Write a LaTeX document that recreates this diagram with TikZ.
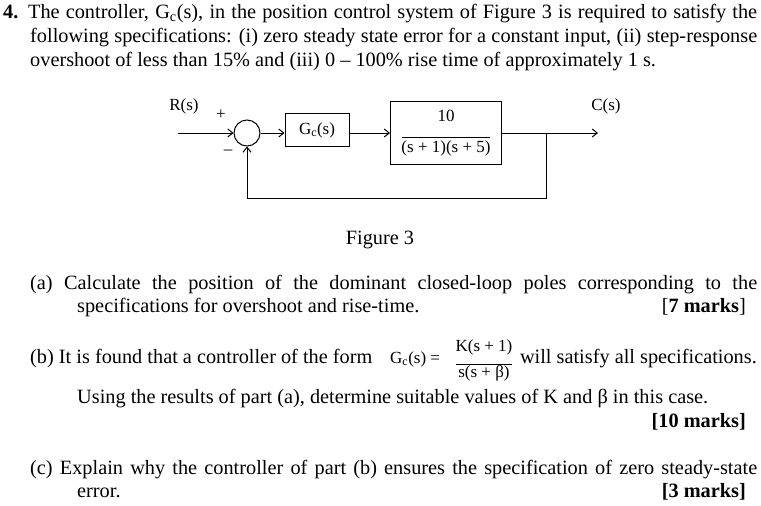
\documentclass[tikz,border=0pt]{standalone}
\usepackage{fontspec}
\setmainfont{Liberation Serif}
\usetikzlibrary{arrows.meta}
\begin{document}
\begin{tikzpicture}[x=1pt,y=-1pt,
 txt/.style={anchor=base west,inner sep=0,font=\fontsize{20.3}{22}\selectfont},
 sm/.style={inner sep=0,font=\fontsize{17}{18}\selectfont},
 blk/.style={draw,line width=1pt,minimum width=64pt,minimum height=33pt,inner sep=0,font=\fontsize{17}{18}\selectfont},
 arr/.style={line width=1pt,-{Straight Barb[length=5pt,width=8pt]}},
 ln/.style={line width=1pt}]
\useasboundingbox (0,0) rectangle (761,506);
\node[txt] (l1) at (3,18) {\makebox[754pt][s]{\textbf{4.} The controller, G$_\mathrm{c}$(s), in the position control system of Figure 3 is required to satisfy the}};
\node[txt] (l2) at (30,42) {\makebox[727pt][s]{following specifications: (i) zero steady state error for a constant input, (ii) step-response}};
\node[txt] (l3) at (30,66) {overshoot of less than 15\% and (iii) 0 – 100\% rise time of approximately 1 s.};
% diagram
\node[sm] (R) at (184,106) {R(s)};
\node[sm] (C) at (606,106) {C(s)};
\node[sm] (p) at (221,115) {+};
\node[sm] (m) at (228,152) {\textendash};
\node[draw,circle,line width=1pt,minimum size=26pt,inner sep=0] (sum) at (247,133) {};
\node[blk] (gc) at (317,130) {G$_\mathrm{c}$(s)};
\node[blk,minimum width=111pt,minimum height=63pt] (gp) at (446,133) {\begin{tabular}{@{}c@{}}10\\[-2pt]\rule{88pt}{0.6pt}\\[-3pt](s + 1)(s + 5)\end{tabular}};
\coordinate (in) at (178,133);
\coordinate (br) at (546,133);
\coordinate (out) at (598,133);
\coordinate (fb) at (546,198);
\coordinate (fb2) at (247,198);
\draw[arr] (in) -- (sum);
\draw[arr] (sum) -- (gc.west|-sum);
\draw[arr] (gc.east|-sum) -- (gp.west|-sum);
\draw[arr] (gp.east|-sum) -- (out);
\draw[ln] (br) -- (fb) -- (fb2);
\draw[arr] (fb2) -- (sum.south);
\node[txt,anchor=base] (fig) at (380,244) {Figure 3};
% (a)
\node[txt] (a1) at (30,289) {\makebox[727pt][s]{(a) Calculate the position of the dominant closed-loop poles corresponding to the}};
\node[txt] (a2) at (77,312) {specifications for overshoot and rise-time.};
\node[txt,anchor=base east] (a3) at (746,312) {[\textbf{7 marks}]};
% (b)
\node[txt] (b1) at (30,363) {(b) It is found that a controller of the form};
\node[sm,anchor=base west] (bf) at (390,363) {G$_\mathrm{c}$(s) =};
\node[sm] (bfr) at (484,361) {\begin{tabular}{@{}c@{}}K(s + 1)\\[-5pt]\rule{56pt}{0.6pt}\\[-5pt]s(s + β)\end{tabular}};
\node[txt,anchor=base east] (b2) at (757,363) {will satisfy all specifications.};
\node[txt] (b3) at (77,403) {Using the results of part (a), determine suitable values of K and β in this case.};
\node[txt,anchor=base east] (b4) at (746,427) {\textbf{[10 marks]}};
% (c)
\node[txt] (c1) at (30,474) {\makebox[727pt][s]{(c) Explain why the controller of part (b) ensures the specification of zero steady-state}};
\node[txt] (c2) at (77,497) {error.};
\node[txt,anchor=base east] (c3) at (746,497) {\textbf{[3 marks]}};
\end{tikzpicture}
\end{document}
